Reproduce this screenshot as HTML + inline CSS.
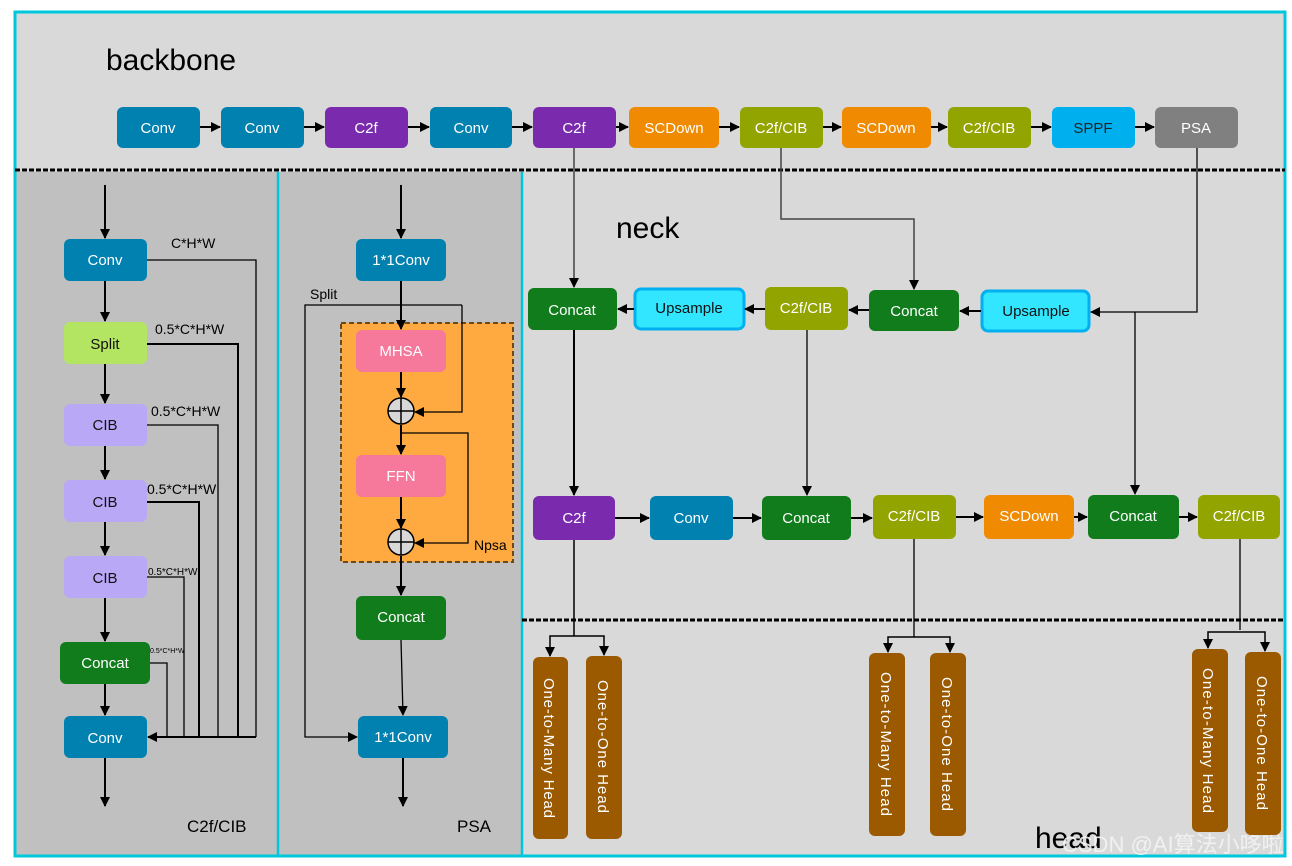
<!DOCTYPE html>
<html><head><meta charset="utf-8"><style>html,body{margin:0;padding:0;background:#fff}svg{display:block}</style></head><body>
<svg width="1292" height="866" viewBox="0 0 1292 866" xmlns="http://www.w3.org/2000/svg" font-family="Liberation Sans, sans-serif">
<defs>
<marker id="a" markerWidth="10" markerHeight="10" refX="9" refY="5" orient="auto" markerUnits="userSpaceOnUse"><path d="M0,0 L10,5 L0,10 z" fill="#000"/></marker>
</defs>
<rect x="15" y="12" width="1270" height="844" fill="#d9d9d9"/>
<rect x="15" y="172" width="263" height="683" fill="#c0c0c0"/>
<rect x="279" y="172" width="243" height="683" fill="#c0c0c0"/>
<line x1="278" y1="172" x2="278" y2="855" stroke="#00c8dc" stroke-width="2.5"/>
<line x1="522" y1="172" x2="522" y2="855" stroke="#00c8dc" stroke-width="2.5"/>
<rect x="15" y="12" width="1270" height="844" fill="none" stroke="#00c8dc" stroke-width="3"/>
<line x1="15" y1="170" x2="1285" y2="170" stroke="#000" stroke-width="3" stroke-dasharray="5,2"/>
<line x1="522" y1="620" x2="1285" y2="620" stroke="#000" stroke-width="3" stroke-dasharray="5,2"/>

<text x="106" y="70" font-size="30">backbone</text>
<text x="616" y="238" font-size="30">neck</text>
<text x="1035" y="848" font-size="30">head</text>
<text x="187" y="832" font-size="17">C2f/CIB</text>
<text x="457" y="832" font-size="17">PSA</text>
<text x="1062" y="852" font-size="22" fill="#f4f4f4" opacity="0.9">CSDN @AI算法小哆啦</text>

<g font-size="15" text-anchor="middle" fill="#fff">
<rect x="117" y="107" width="83" height="41" rx="6" fill="#0081b0"/><text x="158" y="133">Conv</text>
<rect x="221" y="107" width="83" height="41" rx="6" fill="#0081b0"/><text x="262" y="133">Conv</text>
<rect x="325" y="107" width="83" height="41" rx="6" fill="#7a2aad"/><text x="366" y="133">C2f</text>
<rect x="430" y="107" width="82" height="41" rx="6" fill="#0081b0"/><text x="471" y="133">Conv</text>
<rect x="533" y="107" width="83" height="41" rx="6" fill="#7a2aad"/><text x="574" y="133">C2f</text>
<rect x="629" y="107" width="90" height="41" rx="6" fill="#f08a00"/><text x="674" y="133">SCDown</text>
<rect x="740" y="107" width="83" height="41" rx="6" fill="#92a400"/><text x="781" y="133">C2f/CIB</text>
<rect x="842" y="107" width="89" height="41" rx="6" fill="#f08a00"/><text x="886" y="133">SCDown</text>
<rect x="948" y="107" width="83" height="41" rx="6" fill="#92a400"/><text x="989" y="133">C2f/CIB</text>
<rect x="1052" y="107" width="83" height="41" rx="6" fill="#00b0ee"/><text x="1093" y="133" fill="#222">SPPF</text>
<rect x="1155" y="107" width="83" height="41" rx="6" fill="#808080"/><text x="1196" y="133">PSA</text>
<rect x="528" y="288" width="89" height="42" rx="6" fill="#107c1c"/><text x="572" y="315">Concat</text>
<rect x="635" y="289" width="109" height="40" rx="6" fill="#33e6ff" stroke="#00b0f0" stroke-width="3"/><text x="689" y="313" fill="#111">Upsample</text>
<rect x="765" y="287" width="83" height="43" rx="6" fill="#92a400"/><text x="806" y="313">C2f/CIB</text>
<rect x="869" y="290" width="90" height="41" rx="6" fill="#107c1c"/><text x="914" y="316">Concat</text>
<rect x="982" y="291" width="107" height="40" rx="6" fill="#33e6ff" stroke="#00b0f0" stroke-width="3"/><text x="1036" y="316" fill="#111">Upsample</text>
<rect x="533" y="496" width="82" height="44" rx="6" fill="#7a2aad"/><text x="574" y="523">C2f</text>
<rect x="650" y="496" width="83" height="44" rx="6" fill="#0081b0"/><text x="691" y="523">Conv</text>
<rect x="762" y="496" width="89" height="44" rx="6" fill="#107c1c"/><text x="806" y="523">Concat</text>
<rect x="873" y="495" width="83" height="44" rx="6" fill="#92a400"/><text x="914" y="521">C2f/CIB</text>
<rect x="984" y="495" width="90" height="44" rx="6" fill="#f08a00"/><text x="1029" y="521">SCDown</text>
<rect x="1088" y="495" width="91" height="44" rx="6" fill="#107c1c"/><text x="1133" y="521">Concat</text>
<rect x="1198" y="495" width="82" height="44" rx="6" fill="#92a400"/><text x="1239" y="521">C2f/CIB</text>
<rect x="64" y="239" width="83" height="42" rx="6" fill="#0081b0"/><text x="105" y="265">Conv</text>
<rect x="64" y="322" width="83" height="42" rx="6" fill="#b4e562"/><text x="105" y="349" fill="#111">Split</text>
<rect x="64" y="404" width="83" height="42" rx="6" fill="#b9a8f6"/><text x="105" y="430" fill="#111">CIB</text>
<rect x="64" y="480" width="83" height="42" rx="6" fill="#b9a8f6"/><text x="105" y="507" fill="#111">CIB</text>
<rect x="64" y="556" width="83" height="42" rx="6" fill="#b9a8f6"/><text x="105" y="583" fill="#111">CIB</text>
<rect x="60" y="642" width="90" height="42" rx="6" fill="#107c1c"/><text x="105" y="668">Concat</text>
<rect x="64" y="716" width="83" height="42" rx="6" fill="#0081b0"/><text x="105" y="743">Conv</text>
<rect x="341" y="323" width="172" height="239" fill="#ffaa40" stroke="#6b4a1a" stroke-width="2" stroke-dasharray="5,3"/>
<rect x="356" y="239" width="90" height="42" rx="6" fill="#0081b0"/><text x="401" y="265">1*1Conv</text>
<rect x="356" y="330" width="90" height="42" rx="6" fill="#f6789b"/><text x="401" y="356">MHSA</text>
<rect x="356" y="455" width="90" height="42" rx="6" fill="#f6789b"/><text x="401" y="481">FFN</text>
<rect x="356" y="596" width="90" height="44" rx="6" fill="#107c1c"/><text x="401" y="622">Concat</text>
<rect x="358" y="716" width="90" height="42" rx="6" fill="#0081b0"/><text x="403" y="742">1*1Conv</text>
</g>

<g font-size="15" fill="#fff">
<rect x="533" y="657" width="35" height="182" rx="6" fill="#9b5a00"/><text transform="translate(544,678) rotate(90)" textLength="140" lengthAdjust="spacing">One-to-Many Head</text>
<rect x="586" y="656" width="36" height="183" rx="6" fill="#9b5a00"/><text transform="translate(598,680) rotate(90)" textLength="133" lengthAdjust="spacing">One-to-One Head</text>
<rect x="869" y="653" width="36" height="183" rx="6" fill="#9b5a00"/><text transform="translate(881,672) rotate(90)" textLength="144" lengthAdjust="spacing">One-to-Many Head</text>
<rect x="930" y="653" width="36" height="183" rx="6" fill="#9b5a00"/><text transform="translate(942,677) rotate(90)" textLength="134" lengthAdjust="spacing">One-to-One Head</text>
<rect x="1192" y="649" width="36" height="183" rx="6" fill="#9b5a00"/><text transform="translate(1203,668) rotate(90)" textLength="145" lengthAdjust="spacing">One-to-Many Head</text>
<rect x="1245" y="652" width="36" height="183" rx="6" fill="#9b5a00"/><text transform="translate(1257,676) rotate(90)" textLength="134" lengthAdjust="spacing">One-to-One Head</text>
</g>

<g stroke="#000" stroke-width="2" fill="none" marker-end="url(#a)">
<line x1="200" y1="127" x2="220" y2="127"/><line x1="304" y1="127" x2="324" y2="127"/>
<line x1="408" y1="127" x2="429" y2="127"/><line x1="512" y1="127" x2="532" y2="127"/>
<line x1="616" y1="127" x2="628" y2="127"/><line x1="719" y1="127" x2="739" y2="127"/>
<line x1="823" y1="127" x2="841" y2="127"/><line x1="931" y1="127" x2="947" y2="127"/>
<line x1="1031" y1="127" x2="1051" y2="127"/><line x1="1135" y1="127" x2="1154" y2="127"/>
<line x1="574" y1="148" x2="574" y2="287" stroke="#444" stroke-width="1.5"/>
<polyline points="781,148 781,219 914,219 914,289" stroke="#444" stroke-width="1.5"/>
<polyline points="1197,148 1197,312 1091,312" stroke="#222" stroke-width="1.5"/>
<line x1="981" y1="311" x2="960" y2="311"/>
<line x1="869" y1="310" x2="849" y2="310"/>
<line x1="765" y1="309" x2="745" y2="309"/>
<line x1="634" y1="309" x2="618" y2="309"/>
<line x1="574" y1="330" x2="574" y2="495"/>
<line x1="807" y1="330" x2="807" y2="495" stroke-width="1.3"/>
<line x1="1135" y1="312" x2="1135" y2="494" stroke-width="1.3"/>
<line x1="615" y1="518" x2="649" y2="518"/>
<line x1="733" y1="518" x2="761" y2="518"/>
<line x1="851" y1="518" x2="872" y2="518"/>
<line x1="956" y1="517" x2="983" y2="517"/>
<line x1="1074" y1="517" x2="1087" y2="517"/>
<line x1="1179" y1="517" x2="1197" y2="517"/>
<line x1="574" y1="540" x2="574" y2="636" marker-end="none" stroke-width="1.5"/>
<polyline points="574,636 550,636 550,656" stroke-width="1.5"/>
<polyline points="574,636 604,636 604,655" stroke-width="1.5"/>
<line x1="914" y1="539" x2="914" y2="637" marker-end="none" stroke-width="1.3"/>
<polyline points="914,637 888,637 888,652" stroke-width="1.5"/>
<polyline points="914,637 950,637 950,652" stroke-width="1.5"/>
<line x1="1240" y1="539" x2="1240" y2="630" marker-end="none" stroke-width="1.3"/>
<polyline points="1240,632 1208,632 1208,648" stroke-width="1.5"/>
<polyline points="1240,632 1265,632 1265,651" stroke-width="1.5"/>
<line x1="105" y1="185" x2="105" y2="238"/>
<line x1="105" y1="281" x2="105" y2="321"/>
<line x1="105" y1="364" x2="105" y2="403"/>
<line x1="105" y1="446" x2="105" y2="479"/>
<line x1="105" y1="522" x2="105" y2="555"/>
<line x1="105" y1="598" x2="105" y2="641"/>
<line x1="105" y1="684" x2="105" y2="715"/>
<line x1="105" y1="758" x2="105" y2="806"/>
<polyline points="147,260 256,260 256,737" marker-end="none" stroke-width="1.3"/>
<polyline points="147,344 238,344 238,737" marker-end="none" stroke-width="2"/>
<polyline points="147,425 218,425 218,737" marker-end="none" stroke-width="1.3"/>
<polyline points="147,502 199,502 199,737" marker-end="none" stroke-width="2"/>
<polyline points="147,577 184,577 184,737" marker-end="none" stroke-width="1.3"/>
<polyline points="150,663 167,663 167,737" marker-end="none" stroke-width="1.3"/>
<line x1="256" y1="737" x2="148" y2="737"/>
<line x1="401" y1="185" x2="401" y2="238"/>
<line x1="401" y1="281" x2="401" y2="329"/>
<line x1="401" y1="372" x2="401" y2="397"/>
<polyline points="462,305 305,305 305,737 357,737" stroke-width="1.3"/>
<polyline points="462,305 462,412 415,412" stroke-width="1.3"/>
<line x1="401" y1="425" x2="401" y2="454"/>
<polyline points="401,433 468,433 468,543 415,543" stroke-width="1.3"/>
<line x1="401" y1="497" x2="401" y2="528"/>
<line x1="401" y1="556" x2="401" y2="595"/>
<line x1="401" y1="640" x2="403" y2="715" stroke-width="1.3"/>
<line x1="403" y1="758" x2="403" y2="806"/>
</g>
<g stroke="#000" stroke-width="1.5" fill="#d8d8d8">
<circle cx="401" cy="411" r="13"/><line x1="388" y1="411" x2="414" y2="411"/><line x1="401" y1="398" x2="401" y2="424"/>
<circle cx="401" cy="542" r="13"/><line x1="388" y1="542" x2="414" y2="542"/><line x1="401" y1="529" x2="401" y2="555"/>
</g>
<g font-size="14" fill="#000">
<text x="171" y="248">C*H*W</text>
<text x="155" y="334">0.5*C*H*W</text>
<text x="151" y="416">0.5*C*H*W</text>
<text x="147" y="494">0.5*C*H*W</text>
<text x="148" y="575" font-size="10">0.5*C*H*W</text>
<text x="150" y="653" font-size="7">0.5*C*H*W</text>
<text x="310" y="299">Split</text>
<text x="474" y="550">Npsa</text>
</g>
</svg>
</body></html>
